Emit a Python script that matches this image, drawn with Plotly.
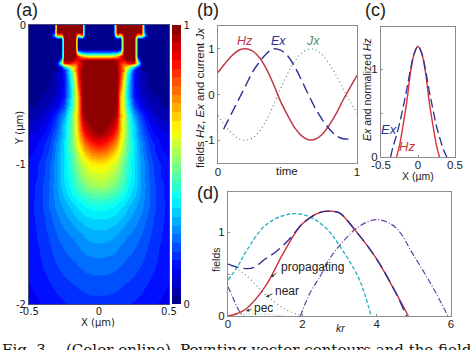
import plotly.graph_objects as go

W, H = 474, 350

# ---------- panel (a): field map, half-columns (mirrored about x=0) ----------
top_x = [0, .025, .05, .075, .1, .125, .15, .175, .2, .225, .25, .275, .3, .325, .35, .375, .4, .425, .45, .475, .5]
top_y = [0, -.025, -.05, -.075, -.1, -.125, -.15, -.175, -.2, -.225, -.25, -.275, -.3, -.325]
top_z = [
    [0, 0, 0, 0, 0, 1, 1, 1, 1, 1, 1, 1, 1, 0, 0, 0, 0, 0, 0, 0, 0],
    [0, 0, 0, 0, 0, 1, 1, 1, 1, 1, 1, 1, 1, 0, 0, 0, 0, 0, 0, 0, 0],
    [0, 0, 0, 0, 0, 1, 1, 1, 1, 1, 1, 1, 1, .1, 0, 0, 0, 0, 0, 0, 0],
    [0, 0, 0, 0, 0, .8, .6, 1, 1, 1, 1, .7, .75, .3, 0, 0, 0, 0, 0, 0, 0],
    [0, 0, 0, 0, 0, 0, .02, 1, 1, 1, 1, .02, .02, 0, 0, 0, 0, 0, 0, 0, 0],
    [0, 0, 0, 0, 0, 0, 0, 1, 1, 1, 1, 0, 0, 0, 0, 0, 0, 0, 0, 0, 0],
    [0, 0, 0, 0, 0, 0, 0, 1, 1, 1, 1, 0, 0, 0, 0, 0, 0, 0, 0, 0, 0],
    [.03, .03, .03, .03, .03, .03, .05, 1, 1, 1, 1, 0, 0, 0, 0, 0, 0, 0, 0, 0, 0],
    [.3, .3, .3, .3, .32, .35, .5, 1, 1, 1, 1, .02, 0, 0, 0, 0, 0, 0, 0, 0, 0],
    [.62, .62, .62, .62, .65, .7, .85, 1, 1, 1, 1, .03, 0, 0, 0, 0, 0, 0, 0, 0, 0],
    [1, 1, 1, 1, .98, .95, .9, .9, 1, 1, 1, .3, 0, 0, 0, 0, 0, 0, 0, 0, 0],
    [1, 1, 1, 1, 1, .95, .85, .8, .85, .9, .85, .5, .1, 0, 0, 0, 0, 0, 0, 0, 0],
    [1, 1, 1, 1, 1, .97, .85, .7, .62, .45, .3, .12, .03, 0, 0, 0, 0, 0, 0, 0, 0],
    [1, 1, 1, 1, 1, .97, .87, .72, .5, .3, .15, .08, .03, .01, 0, 0, 0, 0, 0, 0, 0],
]
low_x = [0, .05, .1, .125, .15, .175, .2, .25, .3, .35, .4, .45, .5]
low_y = [-.3, -.35, -.42, -.5, -.58, -.65, -.72, -.78, -.85, -.92, -1.0, -1.07, -1.15, -1.22, -1.3, -1.4, -1.5, -1.6, -1.7, -1.85, -2.0]
low_z = [
    [1, 1, 1, .97, .88, .72, .55, .18, .05, .02, .01, .005, 0],
    [1, 1, 1, .98, .86, .66, .42, .14, .05, .03, .02, .01, .01],
    [1, 1, 1, .98, .82, .58, .38, .13, .06, .03, .02, .02, .01],
    [1, 1, 1, .97, .72, .55, .36, .14, .07, .04, .03, .02, .02],
    [1, 1, 1, .96, .71, .56, .4, .2, .11, .07, .05, .03, .03],
    [1, 1, .99, .92, .72, .6, .46, .28, .18, .11, .07, .05, .04],
    [1, .98, .94, .86, .7, .58, .47, .33, .21, .14, .1, .08, .07],
    [.98, .95, .88, .8, .68, .57, .47, .33, .23, .16, .12, .1, .09],
    [.88, .85, .78, .71, .63, .55, .47, .35, .26, .19, .15, .12, .11],
    [.76, .74, .68, .63, .57, .51, .45, .35, .27, .2, .16, .13, .12],
    [.64, .63, .59, .56, .52, .47, .43, .35, .28, .22, .18, .15, .13],
    [.59, .58, .55, .52, .49, .45, .41, .35, .28, .22, .18, .15, .135],
    [.54, .53, .5, .48, .45, .43, .39, .34, .28, .23, .19, .16, .14],
    [.46, .455, .44, .42, .405, .385, .365, .32, .27, .23, .19, .16, .14],
    [.39, .387, .378, .365, .35, .34, .32, .29, .26, .225, .19, .165, .145],
    [.34, .338, .328, .32, .31, .3, .285, .265, .24, .21, .18, .16, .14],
    [.3, .298, .288, .28, .27, .26, .255, .24, .22, .195, .175, .155, .14],
    [.27, .268, .262, .255, .245, .24, .23, .22, .205, .185, .165, .15, .135],
    [.24, .239, .234, .228, .224, .218, .214, .205, .19, .175, .16, .145, .13],
    [.205, .204, .201, .198, .194, .19, .186, .178, .168, .155, .145, .135, .125],
    [.175, .174, .172, .168, .165, .162, .158, .152, .145, .135, .128, .118, .11],
]

# ---------- panel (b) ----------
hz_t = [0, .05, .1, .15, .2, .25, .3, .35, .4, .45, .5, .55, .6, .65, .7, .75, .8, .85, .9, .95, 1]
hz_v = [.48, .68, .85, .97, 1, .95, .8, .55, .22, -.15, -.45, -.72, -.9, -.99, -.98, -.87, -.67, -.42, -.12, .15, .42]
ex_t = [.04, .1, .15, .2, .25, .3, .35, .4, .45, .5, .55, .6, .65, .7, .75, .8, .85, .9, .95, .97]
ex_v = [-.76, -.4, -.1, .2, .5, .72, .9, 1, .97, .85, .62, .32, 0, -.3, -.55, -.75, -.9, -.97, -.97, -.94]
jx_t = [0, .05, .1, .15, .2, .25, .3, .35, .4, .45, .5, .55, .6, .65, .7, .75, .8, .85, .9, .95, 1]
jx_v = [-.46, -.68, -.85, -.97, -1, -.95, -.8, -.55, -.22, .12, .45, .72, .9, .99, .98, .87, .67, .42, .12, -.15, -.42]

# ---------- panel (c) ----------
c_hz_x = [-.29, -.25, -.2, -.15, -.1, -.05, 0, .05, .1, .15, .2, .25, .29]
c_hz_y = [0, .13, .37, .64, .97, 1.18, 1.26, 1.18, .97, .64, .37, .13, 0]
c_ex_x = [-.37, -.34, -.3, -.25, -.2, -.15, -.1, -.05, 0, .05, .1, .15, .2, .25, .3, .35, .39]
c_ex_y = [0, .11, .22, .38, .57, .78, 1.0, 1.18, 1.26, 1.18, 1.0, .76, .55, .35, .2, .07, 0]

# ---------- panel (d) ----------
d_hz_x = [0, .25, .5, 1, 1.5, 2, 2.5, 2.8, 3, 3.5, 4, 4.5, 4.85]
d_hz_y = [0, .03, .09, .35, .76, 1.1, 1.24, 1.25, 1.23, .98, .68, .29, 0]
d_ex_x = [0, .2, .5, .7, 1, 1.3, 1.7, 2, 2.5, 2.8, 3, 3.5, 4, 4.5, 4.8]
d_ex_y = [.62, .59, .565, .58, .68, .77, .94, 1.1, 1.24, 1.25, 1.23, .98, .68, .29, 0]
d_cy_x = [0, .25, .5, 1, 1.5, 1.9, 2.3, 2.7, 3, 3.5, 3.7, 3.85]
d_cy_y = [.43, .585, .78, 1.08, 1.2, 1.22, 1.16, 1.02, .84, .47, .23, 0]
d_pu1_x = [0, .1, .2, .3, .42]
d_pu1_y = [.35, .25, .15, .06, 0]
d_pu2_x = [1.95, 2.2, 2.5, 2.7, 3, 3.5, 4, 4.5, 5, 5.5, 5.92]
d_pu2_y = [0, .27, .49, .66, .84, 1.06, 1.15, 1.06, .72, .35, 0]
d_near_x = [0, .25, .5, 1.03, 1.5, 2]
d_near_y = [.62, .56, .48, .25, .09, 0]
d_pec_x = [0, .5, 1, 1.5]
d_pec_y = [0, .025, .02, 0]


def jet(t):
    c = lambda v: int(255 * max(0, min(1, v)))
    return f"rgb({c(1.5-abs(4*t-3))},{c(1.5-abs(4*t-2))},{c(1.5-abs(4*t-1))})"


N = 32
scale = []
for i in range(N):
    col = jet((i + .5) / N)
    scale += [[i / N, col], [(i + 1) / N, col]]


def mirror(xs, ys, zs):
    full_x = [-v for v in xs[:0:-1]] + xs
    full_z = [r[:0:-1] + r for r in zs][::-1]
    return full_x, ys[::-1], full_z


fx = lambda p: p / W
fy = lambda p: 1 - p / H
dx = lambda a, b: [a / W, b / W]
dy = lambda top, bot: [1 - bot / H, 1 - top / H]

fig = go.Figure()
lx, ly, lz = mirror(low_x, low_y, low_z)
fig.add_trace(go.Heatmap(x=lx, y=ly, z=lz, coloraxis="coloraxis", zsmooth="best", xaxis="x", yaxis="y", hoverinfo="skip"))
tx, ty, tz = mirror(top_x, top_y, top_z)
fig.add_trace(go.Heatmap(x=tx, y=ty, z=tz, coloraxis="coloraxis", zsmooth="best", xaxis="x", yaxis="y", hoverinfo="skip"))

RED = "#bf3a4a"
BLUE = "#2c2f92"
GREEN = "#5f8f70"


def line(x, y, ax, color, width=1.4, dash="solid"):
    fig.add_trace(go.Scatter(x=x, y=y, mode="lines", xaxis=f"x{ax}", yaxis=f"y{ax}",
                             line=dict(color=color, width=width, dash=dash, shape="spline", smoothing=1),
                             showlegend=False, hoverinfo="skip"))


line(jx_t, jx_v, 2, GREEN, 1.2, "1px,3px")
line(hz_t, hz_v, 2, RED, 1.5)
line(ex_t, ex_v, 2, BLUE, 1.4, "11px,5px")

line(c_hz_x, c_hz_y, 3, "#dd3038", 1.4)
line(c_ex_x, c_ex_y, 3, BLUE, 1.3, "9px,4px")

line(d_pec_x, d_pec_y, 4, "#77c488", 1.0, "1px,2px")
line(d_near_x, d_near_y, 4, "#55806a", 1.1, "1px,3px")
line(d_cy_x, d_cy_y, 4, "#35b5c5", 1.4, "4px,2px")
line(d_pu1_x, d_pu1_y, 4, "#6a3f9c", 1.2, "6px,2px,1px,2px")
line(d_pu2_x, d_pu2_y, 4, "#6a3f9c", 1.2, "6px,2px,1px,2px")
line(d_hz_x, d_hz_y, 4, "#c8323c", 1.4)
line(d_ex_x, d_ex_y, 4, BLUE, 1.4, "11px,5px")

FRAME = "#8c8c8c"
tick_font = dict(family="Liberation Sans", size=11.5, color="#222")
common = dict(showgrid=False, zeroline=False, mirror=True, showline=True, linecolor=FRAME, linewidth=1,
              ticks="inside", ticklen=2, tickcolor=FRAME, tickfont=tick_font)

a_font = dict(family="DejaVu Sans", size=10, color="#222")
layout = dict(
    width=W, height=H, margin=dict(l=0, r=0, t=0, b=0, pad=0, autoexpand=False), autosize=False,
    paper_bgcolor="white", plot_bgcolor="white", showlegend=False,
    coloraxis=dict(cmin=0, cmax=1, colorscale=scale, colorbar=dict(
        x=fx(172), xanchor="left", y=fy(25), yanchor="top", len=279 / H, lenmode="fraction", thickness=9,
        xpad=0, ypad=0, outlinewidth=0, tickvals=[0, 1], ticktext=["0", "1"], ticks="", ticklabelposition="outside",
        tickfont=dict(family="DejaVu Sans", size=10, color="#222"))),
    xaxis=dict(domain=dx(29, 169), range=[-.5, .5], tickvals=[-.5, 0, .5], ticktext=["-0.5", "0", "0.5"], ticklabelstandoff=-2,
               showgrid=False, zeroline=False, mirror=True, showline=True, linecolor="#4a4a7a", ticks="", tickfont=a_font, anchor="y"),
    yaxis=dict(domain=dy(25, 304), range=[-2, 0], tickvals=[0, -1, -2], ticktext=["0", "-1", "-2"],
               showgrid=False, zeroline=False, mirror=True, showline=True, linecolor="#4a4a7a", ticks="", tickfont=a_font, anchor="x"),
    xaxis2=dict(domain=dx(218, 357), range=[0, 1], tickvals=[0, 1], anchor="y2", ticklabelstandoff=-2, **common),
    yaxis2=dict(domain=dy(26, 163), range=[-1.5, 1.5], tickvals=[-1, 0, 1], ticktext=["-1", "0", "1"], anchor="x2", **common),
    xaxis3=dict(domain=dx(381, 455), range=[-.5, .5], tickvals=[-.5, 0, .5], ticktext=["-0.5", "0", "0.5"], anchor="y3", ticklabelstandoff=-3, **common),
    yaxis3=dict(domain=dy(27, 157), range=[0, 1.48], tickvals=[0, .5, 1], ticktext=["0", "", "1"], anchor="x3", **common),
    xaxis4=dict(domain=dx(228, 451), range=[0, 6], tickvals=[0, 2, 4, 6], anchor="y4", ticklabelstandoff=-3, **common),
    yaxis4=dict(domain=dy(192, 316), range=[0, 1.48], tickvals=[0, .5, 1], ticktext=["0", "", "1"], anchor="x4", **common),
)
fig.update_layout(**layout)


def text(s, px, py, size=11.5, color="#222", family="Liberation Sans", angle=0, anchor="center"):
    fig.add_annotation(text=s, x=fx(px), y=fy(py), xref="paper", yref="paper", showarrow=False, xanchor=anchor,
                       yanchor="middle", textangle=angle, font=dict(size=size, color=color, family=family), borderpad=0, borderwidth=0)


def arrow(x0, y0, x1, y1):
    fig.add_annotation(text="", x=fx(x1), y=fy(y1), xref="paper", yref="paper", ax=x0 - x1, ay=y0 - y1,
                       axref="pixel", ayref="pixel", showarrow=True, arrowhead=2, arrowsize=.7, arrowwidth=.9, arrowcolor="#333")


text("(a)", 27, 10, 18)
text("(b)", 208, 10, 18)
text("(c)", 375, 10, 18)
text("(d)", 208, 193, 18)

text("X (µm)", 98, 322, 10, family="DejaVu Sans")
text("Y (µm)", 20, 128, 10, family="DejaVu Sans", angle=-90)
text("time", 287, 171, 11.5)
text("fields <i>Hz</i>, <i>Ex</i> and current <i>Jx</i>", 200, 98, 11.5, angle=-90)
text("<i>Ex</i> and normalized <i>Hz</i>", 367, 90, 10.5, angle=-90)
text("X (µm)", 418, 176, 10.5)
text("fields", 216, 260, 10.5, angle=-90)
text("<i>kr</i>", 340, 328, 10.5)

text("<i>Hz</i>", 245, 41, 12.5, RED)
text("<i>Ex</i>", 278, 41, 12.5, BLUE)
text("<i>Jx</i>", 313, 41, 12.5, "#4f8f5f")
text("<i>Ex</i>", 389, 129, 13, BLUE)
text("<i>Hz</i>", 407, 146, 13, "#c8323c")

text("propagating", 312, 267, 12)
text("near", 287, 291, 12)
text("pec", 263, 308, 12)
arrow(278, 272, 271, 277)
arrow(274, 293, 266, 297)
arrow(253, 309, 246, 311)

CAP = dict(size=15, color="#111", family="DejaVu Serif", anchor="left")
text("Fig. 3.", 2, 350, **CAP)
text("(Color online)", 66, 350, **CAP)
text("Poynting vector contours and the field", 180, 350, **CAP)

fig.write_html("out.html", post_script="document.body.style.margin='0';", config=dict(displayModeBar=False))
